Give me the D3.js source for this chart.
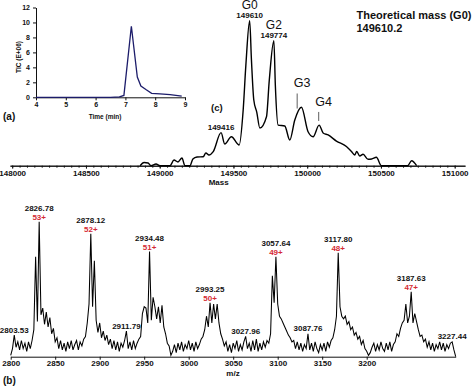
<!DOCTYPE html>
<html>
<head>
<meta charset="utf-8">
<script src="https://cdn.jsdelivr.net/npm/d3@7"></script>
<style>
  body { margin: 0; background: #fff; }
  svg { display: block; font-family: "Liberation Sans", Arial, sans-serif; }
  .axis path, .axis line { stroke: #111; stroke-width: 1; }
  .axis text { font-weight: bold; fill: #111; }
  .lbl { font-weight: bold; fill: #111; }
</style>
</head>
<body>
<script>
// (a) TIC chromatogram, inset top left
var ticTime = [4, 6.5, 6.8, 6.95, 7.2, 7.4, 7.52, 7.7, 7.88, 8.16, 8.5, 8.89];
var ticValue = [0, 0, 0.05, 0.25, 9.5, 2.7, 1.5, 1.0, 0.53, 0.45, 0.35, 0.15];
var ticTicksX = [4, 5, 6, 7, 8, 9];
var ticTicksY = [0, 2, 4, 6, 8, 10, 12];

// (c) deconvoluted mass spectrum (relative intensity, G0 = 100)
var massValues = [148867, 148894, 148921, 148941, 148975, 149002, 149070, 149097, 149124, 149151,
  149171, 149205, 149225, 149253, 149295, 149313, 149334, 149363, 149416, 149441,
  149486, 149539, 149566, 149584, 149610, 149622, 149638, 149658, 149679, 149724,
  149743, 149774, 149784, 149803, 149848, 149882, 149916, 149961, 150006, 150040,
  150081, 150108, 150142, 150198, 150266, 150300, 150322, 150336, 150356, 150379,
  150413, 150437, 150469, 150503, 150681, 150708, 150742];
var massIntensity = [0, 2.2, 1.9, 0, 1.2, 0, 0, 3.9, 2.6, 5.3,
  0, 0, 4.6, 6, 6.2, 8.8, 7.4, 9.7, 22.8, 15,
  20, 14.3, 38.4, 69, 100, 73, 45.3, 37, 26, 33.8,
  59, 86.2, 55.7, 28, 27.4, 17.7, 31.5, 40.3, 23.4, 20,
  28, 22.6, 21.2, 17, 13.2, 9.8, 7.4, 9.8, 6.7, 7.9,
  4.4, 4.6, 5.8, 0, 0, 3.4, 0];
var massTicks = [148000, 148500, 149000, 149500, 150000, 150500, 151000];
var massPeaks = [
  { mass: 149416, text: "149416" },
  { mass: 149610, text: "149610", glyco: "G0" },
  { mass: 149774, text: "149774", glyco: "G2" }
];
var glycoMarks = [
  { mass: 149932, glyco: "G3" },
  { mass: 150078, glyco: "G4" }
];

// (b) raw m/z spectrum, sampled every 2 units from 2800 (relative intensity)
var mzStart = 2800, mzStep = 2;
var mzIntensity = [
  1, 6, 16, 7, 11, 5, 12, 6, 10, 4,
  11, 6, 12, 20, 74, 26, 100, 31, 36, 24,
  33, 22, 29, 17, 21, 11, 14, 6, 12, 5,
  10, 4, 11, 6, 12, 5, 9, 12, 5, 11,
  8, 13, 15, 25, 39, 91, 37, 71, 27, 18,
  25, 14, 19, 12, 16, 9, 13, 6, 12, 5,
  11, 4, 10, 7, 12, 19, 6, 11, 5, 12,
  6, 10, 13, 15, 32, 37, 36, 25, 78, 27,
  44, 37, 28, 37, 25, 38, 22, 17, 10, 8,
  1, 4, 9, 3, 10, 5, 11, 4, 9, 6,
  12, 5, 10, 4, 11, 6, 9, 13, 15, 20,
  30, 22, 40, 25, 39, 28, 39, 25, 17, 13,
  8, 11, 4, 9, 3, 10, 6, 12, 4, 9,
  5, 11, 15, 6, 10, 4, 12, 5, 13, 4,
  10, 5, 11, 7, 12, 10, 17, 60, 40, 74,
  39, 30, 28, 25, 22, 19, 16, 14, 11, 12,
  6, 11, 5, 10, 4, 9, 6, 17, 5, 10,
  4, 11, 6, 3, 9, 5, 10, 4, 11, 7,
  12, 14, 20, 30, 77, 37, 30, 28, 30, 24,
  26, 20, 22, 16, 18, 13, 15, 9, 12, 6,
  4, 1, 3, 7, 10, 4, 9, 5, 11, 6,
  4, 10, 5, 11, 4, 9, 11, 17, 15, 21,
  25, 27, 39, 25, 30, 48, 25, 32, 26, 20,
  15, 16, 11, 13, 7, 11, 5, 10, 4, 9,
  6, 11, 5, 10, 4, 9, 6, 10, 11, 5,
  0];
var mzTicks = [2800, 2850, 2900, 2950, 3000, 3050, 3100, 3150, 3200];
var chargePeaks = [
  { mz: 2832, text: "2826.78", charge: "53+" },
  { mz: 2890, text: "2878.12", charge: "52+" },
  { mz: 2956, text: "2934.48", charge: "51+" },
  { mz: 3024, text: "2993.25", charge: "50+" },
  { mz: 3098, text: "3057.64", charge: "49+" },
  { mz: 3168, text: "3117.80", charge: "48+" },
  { mz: 3250, text: "3187.63", charge: "47+" }
];
var minorPeaks = [
  { mz: 2804, text: "2803.53" },
  { mz: 2930, text: "2911.79" },
  { mz: 3064, text: "3027.96" },
  { mz: 3134, text: "3087.76" },
  { mz: 3296, text: "3227.44" }
];

var W = 474, H = 386;
var red = "#d42a34";

var svg = d3.select("body").append("svg")
  .attr("width", W)
  .attr("height", H);
svg.append("rect").attr("width", W).attr("height", H).attr("fill", "#fff");

// ---------- (a) ----------
var xA = d3.scaleLinear().domain([4, 9]).range([36, 185]);
var yA = d3.scaleLinear().domain([0, 12]).range([97.3, 7.5]);

var axA = svg.append("g").attr("class", "axis")
  .attr("transform", "translate(0," + yA(0) + ")")
  .call(d3.axisBottom(xA).tickValues(ticTicksX).tickSize(3).tickSizeOuter(0).tickPadding(2).tickFormat(d3.format("d")));
axA.selectAll("text").style("font-size", "7px");
var ayA = svg.append("g").attr("class", "axis")
  .attr("transform", "translate(" + xA(4) + ",0)")
  .call(d3.axisLeft(yA).tickValues(ticTicksY).tickSize(3).tickSizeOuter(0).tickPadding(3));
ayA.selectAll("text").style("font-size", "7px");

svg.append("path")
  .datum(ticTime.map(function(t, i) { return [t, ticValue[i]]; }))
  .attr("fill", "none")
  .attr("stroke", "#1c1c6a")
  .attr("stroke-width", 1.3)
  .attr("d", d3.line().x(function(d) { return xA(d[0]); }).y(function(d) { return yA(d[1]); }));

svg.append("text").attr("class", "lbl")
  .attr("x", 105).attr("y", 118.5)
  .attr("text-anchor", "middle").style("font-size", "6.5px")
  .text("Time (min)");
svg.append("text").attr("class", "lbl")
  .attr("transform", "translate(21,57) rotate(-90)")
  .attr("text-anchor", "middle").style("font-size", "6.5px")
  .text("TIC (E+06)");
svg.append("text").attr("class", "lbl")
  .attr("x", 3).attr("y", 119.5).style("font-size", "10px")
  .text("(a)");

// ---------- (c) ----------
var xC = d3.scaleLinear().domain([147985, 151070]).range([10, 465]);
var yC = d3.scaleLinear().domain([0, 100]).range([165.7, 20.7]);

svg.append("g").attr("class", "axis")
  .attr("transform", "translate(0," + yC(0) + ")")
  .call(d3.axisBottom(xC).tickValues(d3.range(148000, 151001, 50)).tickSize(2).tickSizeOuter(0).tickFormat(""));
var axC = svg.append("g").attr("class", "axis")
  .attr("transform", "translate(0," + yC(0) + ")")
  .call(d3.axisBottom(xC).tickValues(massTicks).tickSize(3).tickSizeOuter(0).tickPadding(2).tickFormat(d3.format("d")));
axC.selectAll("text").style("font-size", "8px");

svg.append("path")
  .datum(massValues.map(function(m, i) { return [m, massIntensity[i]]; }))
  .attr("fill", "none")
  .attr("stroke", "#000")
  .attr("stroke-width", 1.4)
  .attr("stroke-linejoin", "round")
  .attr("d", d3.line().curve(d3.curveMonotoneX)
    .x(function(d) { return xC(d[0]); }).y(function(d) { return yC(d[1]); }));

massPeaks.forEach(function(p) {
  var v = massIntensity[massValues.indexOf(p.mass)];
  svg.append("text").attr("class", "lbl")
    .attr("x", xC(p.mass)).attr("y", yC(v) - 2.7)
    .attr("text-anchor", "middle").style("font-size", "8px")
    .text(p.text);
  if (p.glyco) {
    svg.append("text")
      .attr("x", xC(p.mass)).attr("y", yC(v) - 12.2)
      .attr("text-anchor", "middle").style("font-size", "12px").attr("fill", "#111")
      .text(p.glyco);
  }
});

var markLength = { G3: 15, G4: 9 };
var markGap = { G3: 7, G4: 5 };
glycoMarks.forEach(function(g) {
  var v = d3.scaleLinear().domain(massValues).range(massIntensity)(g.mass);
  var bottom = yC(v) - markGap[g.glyco];
  var top = bottom - markLength[g.glyco];
  svg.append("line")
    .attr("x1", xC(g.mass)).attr("x2", xC(g.mass))
    .attr("y1", top).attr("y2", bottom)
    .attr("stroke", "#333").attr("stroke-width", 0.8);
  svg.append("text")
    .attr("x", xC(g.mass) + 5).attr("y", top - 6)
    .attr("text-anchor", "middle").style("font-size", "12.5px").attr("fill", "#111")
    .text(g.glyco);
});

svg.append("text").attr("class", "lbl")
  .attr("x", xC(149400)).attr("y", yC(0) + 19.5)
  .attr("text-anchor", "middle").style("font-size", "8px")
  .text("Mass");
svg.append("text").attr("class", "lbl")
  .attr("x", 211).attr("y", 111).style("font-size", "9.5px")
  .text("(c)");

svg.append("text").attr("class", "lbl")
  .attr("x", 356.5).attr("y", 19).style("font-size", "11px")
  .text("Theoretical mass (G0)");
svg.append("text").attr("class", "lbl")
  .attr("x", 356.5).attr("y", 31.5).style("font-size", "11px")
  .text("149610.2");

// ---------- (b) ----------
var xB = d3.scaleLinear().domain([2800, 3300]).range([10.7, 455.7]);
var yB = d3.scaleLinear().domain([0, 100]).range([356.7, 221.7]);

var axB = svg.append("g").attr("class", "axis")
  .attr("transform", "translate(0," + yB(0) + ")")
  .call(d3.axisBottom(xB).tickValues(mzTicks).tickSize(3).tickSizeOuter(0).tickPadding(1).tickFormat(d3.format("d")));
axB.selectAll("text").style("font-size", "8px");

svg.append("path")
  .datum(mzIntensity)
  .attr("fill", "none")
  .attr("stroke", "#000")
  .attr("stroke-width", 1.05)
  .attr("d", d3.line()
    .x(function(d, i) { return xB(mzStart + i * mzStep); })
    .y(function(d) { return yB(d); }));

function valueAt(mz) { return mzIntensity[Math.round((mz - mzStart) / mzStep)]; }

chargePeaks.forEach(function(p) {
  var yTop = yB(valueAt(p.mz));
  svg.append("text").attr("class", "lbl")
    .attr("x", xB(p.mz)).attr("y", yTop - 10.5)
    .attr("text-anchor", "middle").style("font-size", "8px")
    .text(p.text);
  svg.append("text")
    .attr("x", xB(p.mz)).attr("y", yTop - 1.8)
    .attr("text-anchor", "middle").style("font-size", "8px").style("font-weight", "bold")
    .attr("fill", red)
    .text(p.charge);
});
minorPeaks.forEach(function(p) {
  svg.append("text").attr("class", "lbl")
    .attr("x", xB(p.mz)).attr("y", yB(valueAt(p.mz)) - 2.5)
    .attr("text-anchor", "middle").style("font-size", "8px")
    .text(p.text);
});

svg.append("text").attr("class", "lbl")
  .attr("x", 233).attr("y", 375.5)
  .attr("text-anchor", "middle").style("font-size", "8px")
  .text("m/z");
svg.append("text").attr("class", "lbl")
  .attr("x", 3).attr("y", 383.5).style("font-size", "10px")
  .text("(b)");
</script>
</body>
</html>
